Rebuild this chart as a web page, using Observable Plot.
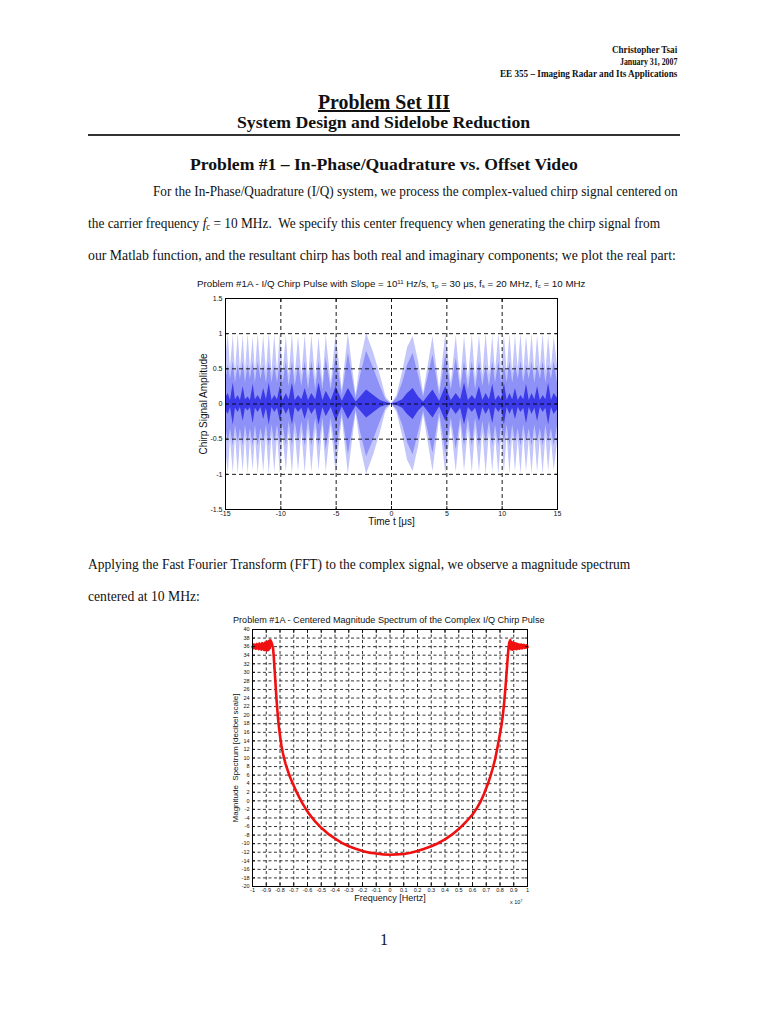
<!DOCTYPE html>
<html><head><meta charset="utf-8">
<script src="https://cdn.jsdelivr.net/npm/d3@7"></script>
<script src="https://cdn.jsdelivr.net/npm/@observablehq/plot@0.6"></script>
<style>
body{margin:0;background:#fff;width:768px;height:1024px;position:relative;overflow:hidden}
.t{position:absolute;white-space:nowrap;line-height:1;color:#111;transform-origin:left center}
.serif{font-family:"Liberation Serif","DejaVu Serif",serif}
.sans{font-family:"Liberation Sans",Arial,sans-serif}
.sb{font-size:0.62em;position:relative;top:0.32em}
.sp{font-size:0.62em;position:relative;top:-0.45em}
svg{position:absolute}
</style></head><body>

<div class="t serif fit" style="font-size:9.5px;font-weight:bold" data-x1="612" data-x2="677" data-y="51">Christopher Tsai</div>
<div class="t serif fit" style="font-size:9.5px;font-weight:bold" data-x1="620" data-x2="677" data-y="63">January 31, 2007</div>
<div class="t serif fit" style="font-size:9.5px;font-weight:bold" data-x1="500" data-x2="677" data-y="75">EE 355 – Imaging Radar and Its Applications</div>

<div class="t serif fit" style="font-size:20px;font-weight:bold;text-decoration:underline" data-x1="318" data-x2="450" data-y="102">Problem Set III</div>
<div class="t serif fit" style="font-size:16.5px;font-weight:bold" data-x1="237" data-x2="530" data-y="123">System Design and Sidelobe Reduction</div>
<div style="position:absolute;left:88px;top:134px;width:592px;height:1.5px;background:#333"></div>
<div class="t serif fit" style="font-size:16.5px;font-weight:bold" data-x1="190" data-x2="578" data-y="165">Problem #1 – In-Phase/Quadrature vs. Offset Video</div>

<div class="t serif fit" style="font-size:15px" data-x1="153" data-x2="678" data-y="191">For the In-Phase/Quadrature (I/Q) system, we process the complex-valued chirp signal centered on</div>
<div class="t serif fit" style="font-size:15px" data-x1="88" data-x2="660" data-y="223">the carrier frequency <i>f</i><span class="sb">c</span> = 10 MHz.&nbsp; We specify this center frequency when generating the chirp signal from</div>
<div class="t serif fit" style="font-size:15px" data-x1="88" data-x2="676" data-y="255">our Matlab function, and the resultant chirp has both real and imaginary components; we plot the real part:</div>

<div class="t sans fit" style="font-size:9px" data-x1="197" data-x2="585" data-y="284">Problem #1A - I/Q Chirp Pulse with Slope = 10<span class="sp">11</span> Hz/s, τ<span class="sb">p</span> = 30 μs, f<span class="sb">s</span> = 20 MHz, f<span class="sb">c</span> = 10 MHz</div>

<div class="t serif fit" style="font-size:15px" data-x1="88" data-x2="630" data-y="564">Applying the Fast Fourier Transform (FFT) to the complex signal, we observe a magnitude spectrum</div>
<div class="t serif fit" style="font-size:15px" data-x1="88" data-x2="200" data-y="596">centered at 10 MHz:</div>

<div class="t sans fit" style="font-size:8.5px" data-x1="233" data-x2="545" data-y="620">Problem #1A - Centered Magnitude Spectrum of the Complex I/Q Chirp Pulse</div>
<div class="t sans" style="font-size:5.5px;left:510px;top:900px">x 10<span class="sp">7</span></div>

<div class="t serif" style="font-size:16px;left:380px;top:932px">1</div>

<script>
// ---- Chirp pulse (real part) : hand-read envelope of the blue band ----
const chirpT = [-15.0,-14.75,-14.55,-14.3,-14.1,-13.85,-13.65,-13.4,-13.2,-12.95,-12.75,-12.5,-12.3,-12.05,-11.8,-11.55,-11.3,-11.05,-10.8,-10.55,-10.3,-10.05,-9.8,-9.5,-9.25,-8.95,-8.7,-8.4,-8.1,-7.8,-7.5,-7.2,-6.85,-6.55,-6.2,-5.9,-5.45,-5.0,-4.45,-3.9,-3.2,-2.8,-2.25,-1.6,-1.0,-0.5,0,
 0.5,1.0,1.45,1.95,2.45,2.9,3.75,4.35,4.9,5.4,5.85,6.25,6.6,6.95,7.3,7.6,7.95,8.25,8.55,8.85,9.15,9.4,9.7,9.95,10.2,10.45,10.7,10.95,11.2,11.45,11.7,11.95,12.2,12.45,12.7,12.95,13.2,13.45,13.7,13.95,14.2,14.45,14.7,15.0];
const chirpOuter = [0.6,1.0,0.5,0.98,0.45,1.0,0.5,0.97,0.45,1.0,0.5,0.95,0.45,1.0,0.5,0.97,0.45,1.0,0.45,0.98,0.45,1.0,0.45,0.97,0.4,1.0,0.4,0.96,0.4,0.98,0.35,0.97,0.35,0.95,0.3,0.97,0.3,1.0,0.2,1.0,0.12,0.6,1.0,0.72,0.4,0.1,0,
 0.12,0.45,0.8,0.96,0.6,0.15,0.96,0.2,1.0,0.3,0.97,0.3,0.96,0.35,0.98,0.35,0.97,0.4,1.0,0.4,0.97,0.45,1.0,0.45,0.98,0.45,1.0,0.45,0.97,0.5,1.0,0.45,0.96,0.5,1.0,0.45,0.97,0.5,1.0,0.45,0.96,0.5,0.95,0.55];
const chirpInner = [0.3,0.55,0.35,0.6,0.3,0.55,0.35,0.6,0.3,0.55,0.35,0.6,0.3,0.6,0.35,0.55,0.3,0.6,0.3,0.55,0.3,0.6,0.3,0.6,0.25,0.6,0.25,0.55,0.25,0.6,0.2,0.6,0.2,0.6,0.2,0.65,0.2,0.7,0.12,0.72,0.08,0.4,0.75,0.5,0.25,0.06,0,
 0.08,0.3,0.55,0.72,0.4,0.1,0.7,0.12,0.7,0.2,0.65,0.2,0.6,0.2,0.6,0.2,0.6,0.25,0.55,0.25,0.6,0.3,0.6,0.3,0.55,0.3,0.6,0.3,0.55,0.35,0.6,0.3,0.55,0.35,0.6,0.3,0.55,0.35,0.6,0.3,0.55,0.35,0.6,0.3];
const chirpCore = [0.08,0.15,0.05,0.3,0.06,0.12,0.05,0.25,0.06,0.1,0.05,0.28,0.06,0.12,0.05,0.22,0.06,0.3,0.05,0.12,0.06,0.25,0.05,0.15,0.06,0.3,0.05,0.12,0.06,0.22,0.05,0.15,0.06,0.3,0.05,0.18,0.05,0.25,0.04,0.22,0.03,0.1,0.2,0.12,0.05,0.02,0,
 0.02,0.06,0.15,0.22,0.1,0.03,0.2,0.04,0.25,0.05,0.15,0.06,0.3,0.05,0.12,0.06,0.25,0.05,0.15,0.06,0.28,0.05,0.12,0.06,0.3,0.05,0.15,0.06,0.22,0.05,0.12,0.06,0.28,0.05,0.15,0.06,0.25,0.05,0.12,0.06,0.3,0.05,0.15,0.08];
const chirpXTicks = [-15,-10,-5,0,5,10,15];
const chirpYTicks = [-1.5,-1,-0.5,0,0.5,1,1.5];
const chirpGridX = [-10,-5,0,5,10];
const chirpGridY = [-1,-0.5,0,0.5,1];
const chirpXLabel = "Time t [μs]";
const chirpYLabel = "Chirp Signal Amplitude";

// ---- Magnitude spectrum (dB), frequency in units of 10^7 Hz ----
const specF = [-1.000,-0.995,-0.990,-0.985,-0.980,-0.975,-0.970,-0.965,-0.960,-0.955,-0.950,-0.945,-0.940,-0.935,-0.930,-0.925,-0.920,-0.915,-0.910,-0.905,-0.900,-0.895,-0.890,-0.885,-0.880,-0.875,-0.870,-0.865,-0.860,-0.855,
 -0.850,-0.845,-0.840,-0.835,-0.830,-0.825,-0.820,-0.815,-0.810,-0.800,-0.790,-0.780,-0.770,-0.760,-0.745,-0.730,-0.715,-0.700,-0.680,-0.660,-0.640,-0.610,-0.580,-0.550,-0.500,-0.450,-0.400,-0.350,-0.300,-0.250,-0.200,-0.150,-0.100,-0.050,
 0.000,0.050,0.100,0.150,0.200,0.250,0.300,0.350,0.400,0.450,0.500,0.550,0.600,0.630,0.660,0.685,0.710,0.730,0.750,0.765,0.780,0.795,0.810,0.820,0.830,0.840,0.848,0.855,0.862,0.868,0.875,
 0.880,0.885,0.890,0.895,0.900,0.905,0.910,0.915,0.920,0.925,0.930,0.935,0.940,0.945,0.950,0.955,0.960,0.965,0.970,0.975,0.980,0.985,0.990,0.995,1.000];
const specDb = [36.0,35.6,36.5,35.7,36.3,35.5,36.6,35.8,36.2,35.4,36.7,35.6,36.4,35.3,36.8,35.5,36.6,35.2,36.9,35.3,37.0,35.1,37.1,35.2,37.3,35.6,37.5,37.2,36.8,36.2,
 35.5,33.5,31.0,28.5,26.0,23.5,21.5,19.5,17.8,15.2,13.0,11.3,9.9,8.7,7.2,5.8,4.6,3.5,2.1,0.8,-0.4,-2.0,-3.4,-4.6,-6.3,-7.7,-8.8,-9.8,-10.6,-11.2,-11.7,-12.1,-12.3,-12.5,
 -12.6,-12.5,-12.4,-12.1,-11.7,-11.2,-10.6,-9.9,-9.0,-7.9,-6.6,-5.0,-3.2,-1.8,-0.1,1.7,3.8,5.7,7.9,9.8,12.2,14.8,17.5,19.8,22.8,26.5,30.0,33.0,35.8,37.0,37.5,
 35.4,37.0,35.3,36.9,35.4,36.8,35.5,36.7,35.4,36.6,35.6,36.5,35.5,36.4,35.7,36.5,35.6,36.3,35.8,36.4,35.7,36.2,35.8,36.3,35.9];
const specXTicks = [-1,-0.9,-0.8,-0.7,-0.6,-0.5,-0.4,-0.3,-0.2,-0.1,0,0.1,0.2,0.3,0.4,0.5,0.6,0.7,0.8,0.9,1];
const specYTicks = [-20,-18,-16,-14,-12,-10,-8,-6,-4,-2,0,2,4,6,8,10,12,14,16,18,20,22,24,26,28,30,32,34,36,38,40];
const specGridX = [-0.9,-0.8,-0.7,-0.6,-0.5,-0.4,-0.3,-0.2,-0.1,0,0.1,0.2,0.3,0.4,0.5,0.6,0.7,0.8,0.9];
const specGridY = [-18,-16,-14,-12,-10,-8,-6,-4,-2,0,2,4,6,8,10,12,14,16,18,20,22,24,26,28,30,32,34,36,38];
const specXLabel = "Frequency [Hertz]";
const specYLabel = "Magnitude  Spectrum [decibel scale]";

const fmt = d => String(d);
const chirpRows = chirpT.map((t, i) => ({t, outer: chirpOuter[i], inner: chirpInner[i], core: chirpCore[i]}));
const specRows = specF.map((f, i) => ({f, db: specDb[i]}));

function matlabAxes(xt, yt, fs, xpad, ypad) {
  return [
    Plot.axisX({anchor: "bottom", ticks: xt, tickSize: -3, tickPadding: xpad + 3, tickFormat: fmt, label: null, fontSize: fs}),
    Plot.axisX({anchor: "top", ticks: xt, tickSize: -3, tickPadding: 0, tickFormat: () => "", label: null}),
    Plot.axisY({anchor: "left", ticks: yt, tickSize: -3, tickPadding: ypad + 3, tickFormat: fmt, label: null, fontSize: fs}),
    Plot.axisY({anchor: "right", ticks: yt, tickSize: -3, tickPadding: 0, tickFormat: () => "", label: null})
  ];
}

const c1 = Plot.plot({
  width: 390, height: 240, marginLeft: 40, marginRight: 18, marginTop: 8, marginBottom: 21,
  x: {domain: [-15, 15]}, y: {domain: [-1.5, 1.5]},
  style: {fontFamily: "Liberation Sans, Arial, sans-serif", fontSize: "7px", color: "#111", background: "transparent"},
  marks: [
    Plot.areaY(chirpRows, {x: "t", y1: d => -d.outer, y2: d => d.outer, fill: "#c3c6fb", curve: "linear"}),
    Plot.areaY(chirpRows, {x: "t", y1: d => -d.inner, y2: d => d.inner, fill: "#8e92f6", curve: "linear"}),
    Plot.areaY(chirpRows, {x: "t", y1: d => -d.core, y2: d => d.core, fill: "#3a3ae8", curve: "linear"}),
    Plot.ruleX(chirpGridX, {x: d => d, stroke: "black", strokeDasharray: "4,3", strokeWidth: 0.9}),
    Plot.ruleY(chirpGridY, {y: d => d, stroke: "black", strokeDasharray: "4,3", strokeWidth: 0.9}),
    ...matlabAxes(chirpXTicks, chirpYTicks, 7, 2, 3),
    Plot.frame({stroke: "black"}),
    Plot.text([chirpXLabel], {frameAnchor: "bottom", dy: 15, fontSize: 10, text: d => d}),
    Plot.text([chirpYLabel], {frameAnchor: "left", textAnchor: "middle", dx: -22, rotate: -90, fontSize: 10, text: d => d})
  ]
});
c1.style.left = "185px"; c1.style.top = "290px";
document.body.appendChild(c1);

const c2 = Plot.plot({
  width: 340, height: 290, marginLeft: 47, marginRight: 18, marginTop: 7, marginBottom: 26,
  x: {domain: [-1, 1]}, y: {domain: [-20, 40]},
  style: {fontFamily: "Liberation Sans, Arial, sans-serif", fontSize: "5.5px", color: "#111", background: "transparent"},
  marks: [
    Plot.ruleX(specGridX, {x: d => d, stroke: "black", strokeDasharray: "3,2.5", strokeWidth: 0.8}),
    Plot.ruleY(specGridY, {y: d => d, stroke: "black", strokeDasharray: "3,2.5", strokeWidth: 0.8}),
    Plot.line(specRows, {x: "f", y: "db", stroke: "#f01010", strokeWidth: 2.6}),
    ...matlabAxes(specXTicks, specYTicks, 5.5, 2, 3),
    Plot.frame({stroke: "black"}),
    Plot.text([specXLabel], {frameAnchor: "bottom", dy: 14, fontSize: 9, text: d => d}),
    Plot.text([specYLabel], {frameAnchor: "left", textAnchor: "middle", dx: -17, rotate: -90, fontSize: 8, text: d => d})
  ]
});
c2.style.left = "205px"; c2.style.top = "622px";
document.body.appendChild(c2);

function fitAll() {
  document.querySelectorAll(".fit").forEach(el => {
    const x1 = +el.dataset.x1, x2 = +el.dataset.x2, y = +el.dataset.y;
    el.style.transform = "none";
    const w = el.offsetWidth, h = el.offsetHeight;
    el.style.left = x1 + "px";
    el.style.top = (y - h / 2) + "px";
    el.style.transform = `scaleX(${(x2 - x1) / w})`;
  });
}
fitAll();
if (document.fonts && document.fonts.ready) document.fonts.ready.then(fitAll);
</script>
</body></html>
